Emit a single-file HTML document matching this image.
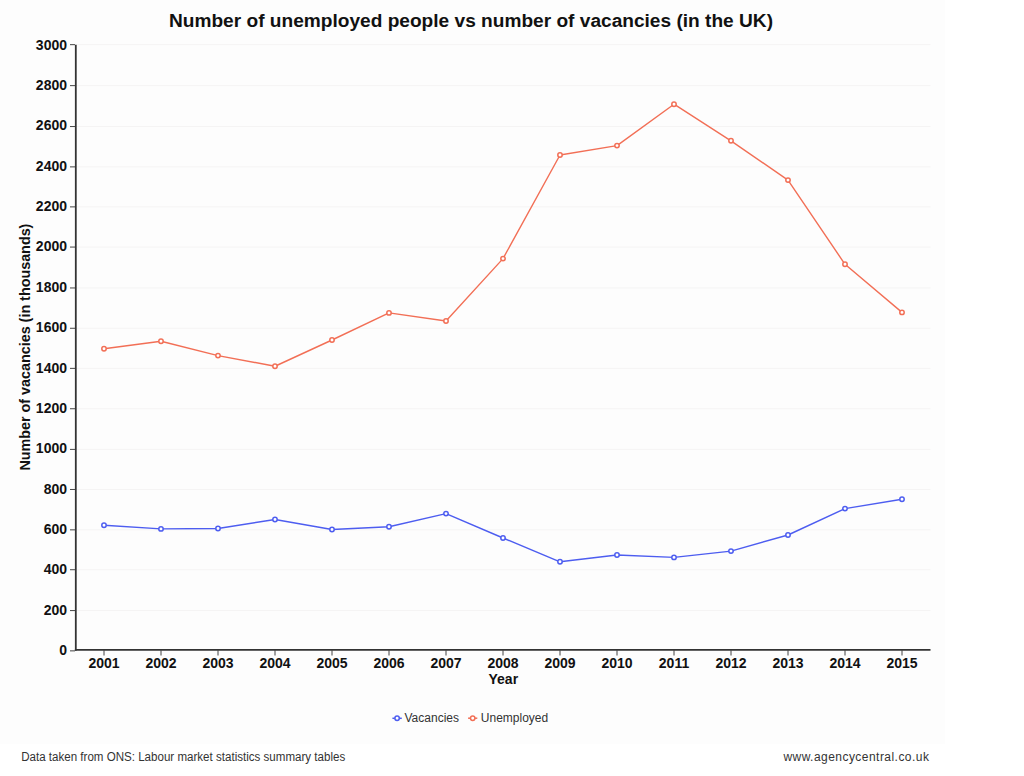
<!DOCTYPE html>
<html><head><meta charset="utf-8"><style>
html,body{margin:0;padding:0;background:#fff;width:1024px;height:776px;overflow:hidden}
svg{display:block;font-family:"Liberation Sans",sans-serif}
.b{font-weight:bold;fill:#111}
</style></head><body>
<svg width="1024" height="776" viewBox="0 0 1024 776">
<rect x="0" y="0" width="1024" height="776" fill="#ffffff"/>
<rect x="0" y="0" width="945" height="744" fill="#fdfdfd"/>

<line x1="76.5" x2="930.5" y1="610.59" y2="610.59" stroke="#f5f4f4" stroke-width="1"/>
<line x1="76.5" x2="930.5" y1="569.73" y2="569.73" stroke="#f5f4f4" stroke-width="1"/>
<line x1="76.5" x2="930.5" y1="529.85" y2="529.85" stroke="#f5f4f4" stroke-width="1"/>
<line x1="76.5" x2="930.5" y1="489.48" y2="489.48" stroke="#f5f4f4" stroke-width="1"/>
<line x1="76.5" x2="930.5" y1="449.40" y2="449.40" stroke="#f5f4f4" stroke-width="1"/>
<line x1="76.5" x2="930.5" y1="408.74" y2="408.74" stroke="#f5f4f4" stroke-width="1"/>
<line x1="76.5" x2="930.5" y1="368.37" y2="368.37" stroke="#f5f4f4" stroke-width="1"/>
<line x1="76.5" x2="930.5" y1="328.27" y2="328.27" stroke="#f5f4f4" stroke-width="1"/>
<line x1="76.5" x2="930.5" y1="287.96" y2="287.96" stroke="#f5f4f4" stroke-width="1"/>
<line x1="76.5" x2="930.5" y1="247.07" y2="247.07" stroke="#f5f4f4" stroke-width="1"/>
<line x1="76.5" x2="930.5" y1="206.88" y2="206.88" stroke="#f5f4f4" stroke-width="1"/>
<line x1="76.5" x2="930.5" y1="166.88" y2="166.88" stroke="#f5f4f4" stroke-width="1"/>
<line x1="76.5" x2="930.5" y1="126.55" y2="126.55" stroke="#f5f4f4" stroke-width="1"/>
<line x1="76.5" x2="930.5" y1="85.64" y2="85.64" stroke="#f5f4f4" stroke-width="1"/>
<line x1="76.5" x2="930.5" y1="44.66" y2="44.66" stroke="#f5f4f4" stroke-width="1"/>
<line x1="75.8" x2="75.8" y1="44.70" y2="650.85" stroke="#333" stroke-width="1.8"/>
<line x1="74.9" x2="930.5" y1="649.95" y2="649.95" stroke="#333" stroke-width="1.8"/>
<line x1="70" x2="75" y1="650.87" y2="650.87" stroke="#444" stroke-width="1"/>
<text class="b" x="67" y="655.20" text-anchor="end" font-size="14">0</text>
<line x1="70" x2="75" y1="610.59" y2="610.59" stroke="#444" stroke-width="1"/>
<text class="b" x="67" y="614.82" text-anchor="end" font-size="14">200</text>
<line x1="70" x2="75" y1="569.73" y2="569.73" stroke="#444" stroke-width="1"/>
<text class="b" x="67" y="574.44" text-anchor="end" font-size="14">400</text>
<line x1="70" x2="75" y1="529.85" y2="529.85" stroke="#444" stroke-width="1"/>
<text class="b" x="67" y="534.06" text-anchor="end" font-size="14">600</text>
<line x1="70" x2="75" y1="489.48" y2="489.48" stroke="#444" stroke-width="1"/>
<text class="b" x="67" y="493.68" text-anchor="end" font-size="14">800</text>
<line x1="70" x2="75" y1="449.40" y2="449.40" stroke="#444" stroke-width="1"/>
<text class="b" x="67" y="453.30" text-anchor="end" font-size="14">1000</text>
<line x1="70" x2="75" y1="408.74" y2="408.74" stroke="#444" stroke-width="1"/>
<text class="b" x="67" y="412.92" text-anchor="end" font-size="14">1200</text>
<line x1="70" x2="75" y1="368.37" y2="368.37" stroke="#444" stroke-width="1"/>
<text class="b" x="67" y="372.54" text-anchor="end" font-size="14">1400</text>
<line x1="70" x2="75" y1="328.27" y2="328.27" stroke="#444" stroke-width="1"/>
<text class="b" x="67" y="332.16" text-anchor="end" font-size="14">1600</text>
<line x1="70" x2="75" y1="287.96" y2="287.96" stroke="#444" stroke-width="1"/>
<text class="b" x="67" y="291.78" text-anchor="end" font-size="14">1800</text>
<line x1="70" x2="75" y1="247.07" y2="247.07" stroke="#444" stroke-width="1"/>
<text class="b" x="67" y="251.40" text-anchor="end" font-size="14">2000</text>
<line x1="70" x2="75" y1="206.88" y2="206.88" stroke="#444" stroke-width="1"/>
<text class="b" x="67" y="211.02" text-anchor="end" font-size="14">2200</text>
<line x1="70" x2="75" y1="166.88" y2="166.88" stroke="#444" stroke-width="1"/>
<text class="b" x="67" y="170.64" text-anchor="end" font-size="14">2400</text>
<line x1="70" x2="75" y1="126.55" y2="126.55" stroke="#444" stroke-width="1"/>
<text class="b" x="67" y="130.26" text-anchor="end" font-size="14">2600</text>
<line x1="70" x2="75" y1="85.64" y2="85.64" stroke="#444" stroke-width="1"/>
<text class="b" x="67" y="89.88" text-anchor="end" font-size="14">2800</text>
<line x1="70" x2="75" y1="44.66" y2="44.66" stroke="#444" stroke-width="1"/>
<text class="b" x="67" y="49.50" text-anchor="end" font-size="14">3000</text>
<line x1="104.00" x2="104.00" y1="650" y2="655.5" stroke="#444" stroke-width="1"/>
<text class="b" x="104.00" y="668.3" text-anchor="middle" font-size="14">2001</text>
<line x1="161.00" x2="161.00" y1="650" y2="655.5" stroke="#444" stroke-width="1"/>
<text class="b" x="161.00" y="668.3" text-anchor="middle" font-size="14">2002</text>
<line x1="218.00" x2="218.00" y1="650" y2="655.5" stroke="#444" stroke-width="1"/>
<text class="b" x="218.00" y="668.3" text-anchor="middle" font-size="14">2003</text>
<line x1="275.00" x2="275.00" y1="650" y2="655.5" stroke="#444" stroke-width="1"/>
<text class="b" x="275.00" y="668.3" text-anchor="middle" font-size="14">2004</text>
<line x1="332.00" x2="332.00" y1="650" y2="655.5" stroke="#444" stroke-width="1"/>
<text class="b" x="332.00" y="668.3" text-anchor="middle" font-size="14">2005</text>
<line x1="389.00" x2="389.00" y1="650" y2="655.5" stroke="#444" stroke-width="1"/>
<text class="b" x="389.00" y="668.3" text-anchor="middle" font-size="14">2006</text>
<line x1="446.00" x2="446.00" y1="650" y2="655.5" stroke="#444" stroke-width="1"/>
<text class="b" x="446.00" y="668.3" text-anchor="middle" font-size="14">2007</text>
<line x1="503.00" x2="503.00" y1="650" y2="655.5" stroke="#444" stroke-width="1"/>
<text class="b" x="503.00" y="668.3" text-anchor="middle" font-size="14">2008</text>
<line x1="560.00" x2="560.00" y1="650" y2="655.5" stroke="#444" stroke-width="1"/>
<text class="b" x="560.00" y="668.3" text-anchor="middle" font-size="14">2009</text>
<line x1="617.00" x2="617.00" y1="650" y2="655.5" stroke="#444" stroke-width="1"/>
<text class="b" x="617.00" y="668.3" text-anchor="middle" font-size="14">2010</text>
<line x1="674.00" x2="674.00" y1="650" y2="655.5" stroke="#444" stroke-width="1"/>
<text class="b" x="674.00" y="668.3" text-anchor="middle" font-size="14">2011</text>
<line x1="731.00" x2="731.00" y1="650" y2="655.5" stroke="#444" stroke-width="1"/>
<text class="b" x="731.00" y="668.3" text-anchor="middle" font-size="14">2012</text>
<line x1="788.00" x2="788.00" y1="650" y2="655.5" stroke="#444" stroke-width="1"/>
<text class="b" x="788.00" y="668.3" text-anchor="middle" font-size="14">2013</text>
<line x1="845.00" x2="845.00" y1="650" y2="655.5" stroke="#444" stroke-width="1"/>
<text class="b" x="845.00" y="668.3" text-anchor="middle" font-size="14">2014</text>
<line x1="902.00" x2="902.00" y1="650" y2="655.5" stroke="#444" stroke-width="1"/>
<text class="b" x="902.00" y="668.3" text-anchor="middle" font-size="14">2015</text>
<text class="b" x="503.3" y="683.5" text-anchor="middle" font-size="14">Year</text>
<text class="b" transform="translate(30.2,347.1) rotate(-90)" x="0" y="0" text-anchor="middle" font-size="14" textLength="247" lengthAdjust="spacingAndGlyphs">Number of vacancies (in thousands)</text>
<text class="b" x="471" y="27" text-anchor="middle" font-size="18" textLength="604" lengthAdjust="spacingAndGlyphs">Number of unemployed people vs number of vacancies (in the UK)</text>
<polyline points="104.00,525.20 161.00,528.90 218.00,528.50 275.00,519.50 332.00,529.50 389.00,526.70 446.00,513.60 503.00,538.00 560.00,561.80 617.00,555.00 674.00,557.40 731.00,551.10 788.00,535.00 845.00,508.60 902.00,499.30" fill="none" stroke="#4d5df0" stroke-width="1.4" stroke-linejoin="round"/><circle cx="104.00" cy="525.20" r="2.2" fill="#fff" stroke="#4d5df0" stroke-width="1.5"/><circle cx="161.00" cy="528.90" r="2.2" fill="#fff" stroke="#4d5df0" stroke-width="1.5"/><circle cx="218.00" cy="528.50" r="2.2" fill="#fff" stroke="#4d5df0" stroke-width="1.5"/><circle cx="275.00" cy="519.50" r="2.2" fill="#fff" stroke="#4d5df0" stroke-width="1.5"/><circle cx="332.00" cy="529.50" r="2.2" fill="#fff" stroke="#4d5df0" stroke-width="1.5"/><circle cx="389.00" cy="526.70" r="2.2" fill="#fff" stroke="#4d5df0" stroke-width="1.5"/><circle cx="446.00" cy="513.60" r="2.2" fill="#fff" stroke="#4d5df0" stroke-width="1.5"/><circle cx="503.00" cy="538.00" r="2.2" fill="#fff" stroke="#4d5df0" stroke-width="1.5"/><circle cx="560.00" cy="561.80" r="2.2" fill="#fff" stroke="#4d5df0" stroke-width="1.5"/><circle cx="617.00" cy="555.00" r="2.2" fill="#fff" stroke="#4d5df0" stroke-width="1.5"/><circle cx="674.00" cy="557.40" r="2.2" fill="#fff" stroke="#4d5df0" stroke-width="1.5"/><circle cx="731.00" cy="551.10" r="2.2" fill="#fff" stroke="#4d5df0" stroke-width="1.5"/><circle cx="788.00" cy="535.00" r="2.2" fill="#fff" stroke="#4d5df0" stroke-width="1.5"/><circle cx="845.00" cy="508.60" r="2.2" fill="#fff" stroke="#4d5df0" stroke-width="1.5"/><circle cx="902.00" cy="499.30" r="2.2" fill="#fff" stroke="#4d5df0" stroke-width="1.5"/>
<polyline points="104.00,348.75 161.00,341.30 218.00,355.60 275.00,366.25 332.00,340.00 389.00,312.90 446.00,321.00 503.00,258.60 560.00,155.00 617.00,145.60 674.00,104.20 731.00,140.80 788.00,180.10 845.00,264.30 902.00,312.40" fill="none" stroke="#f26f56" stroke-width="1.4" stroke-linejoin="round"/><circle cx="104.00" cy="348.75" r="2.2" fill="#fff" stroke="#f26f56" stroke-width="1.5"/><circle cx="161.00" cy="341.30" r="2.2" fill="#fff" stroke="#f26f56" stroke-width="1.5"/><circle cx="218.00" cy="355.60" r="2.2" fill="#fff" stroke="#f26f56" stroke-width="1.5"/><circle cx="275.00" cy="366.25" r="2.2" fill="#fff" stroke="#f26f56" stroke-width="1.5"/><circle cx="332.00" cy="340.00" r="2.2" fill="#fff" stroke="#f26f56" stroke-width="1.5"/><circle cx="389.00" cy="312.90" r="2.2" fill="#fff" stroke="#f26f56" stroke-width="1.5"/><circle cx="446.00" cy="321.00" r="2.2" fill="#fff" stroke="#f26f56" stroke-width="1.5"/><circle cx="503.00" cy="258.60" r="2.2" fill="#fff" stroke="#f26f56" stroke-width="1.5"/><circle cx="560.00" cy="155.00" r="2.2" fill="#fff" stroke="#f26f56" stroke-width="1.5"/><circle cx="617.00" cy="145.60" r="2.2" fill="#fff" stroke="#f26f56" stroke-width="1.5"/><circle cx="674.00" cy="104.20" r="2.2" fill="#fff" stroke="#f26f56" stroke-width="1.5"/><circle cx="731.00" cy="140.80" r="2.2" fill="#fff" stroke="#f26f56" stroke-width="1.5"/><circle cx="788.00" cy="180.10" r="2.2" fill="#fff" stroke="#f26f56" stroke-width="1.5"/><circle cx="845.00" cy="264.30" r="2.2" fill="#fff" stroke="#f26f56" stroke-width="1.5"/><circle cx="902.00" cy="312.40" r="2.2" fill="#fff" stroke="#f26f56" stroke-width="1.5"/>
<line x1="392.4" x2="401.8" y1="718.3" y2="718.3" stroke="#4d5df0" stroke-width="1.5"/><circle cx="397.1" cy="718.3" r="2.2" fill="#fff" stroke="#4d5df0" stroke-width="1.5"/>
<text x="404.5" y="721.8" font-size="12" fill="#333">Vacancies</text>
<line x1="468.1" x2="477.3" y1="718.2" y2="718.2" stroke="#f26f56" stroke-width="1.5"/><circle cx="472.7" cy="718.2" r="2.2" fill="#fff" stroke="#f26f56" stroke-width="1.5"/>
<text x="480.8" y="721.8" font-size="12" fill="#333">Unemployed</text>
<text x="21.2" y="760.5" font-size="12" fill="#333" textLength="324" lengthAdjust="spacingAndGlyphs">Data taken from ONS: Labour market statistics summary tables</text>
<text x="928.9" y="761" text-anchor="end" font-size="12" fill="#333" textLength="145.5" lengthAdjust="spacing">www.agencycentral.co.uk</text>
</svg></body></html>
